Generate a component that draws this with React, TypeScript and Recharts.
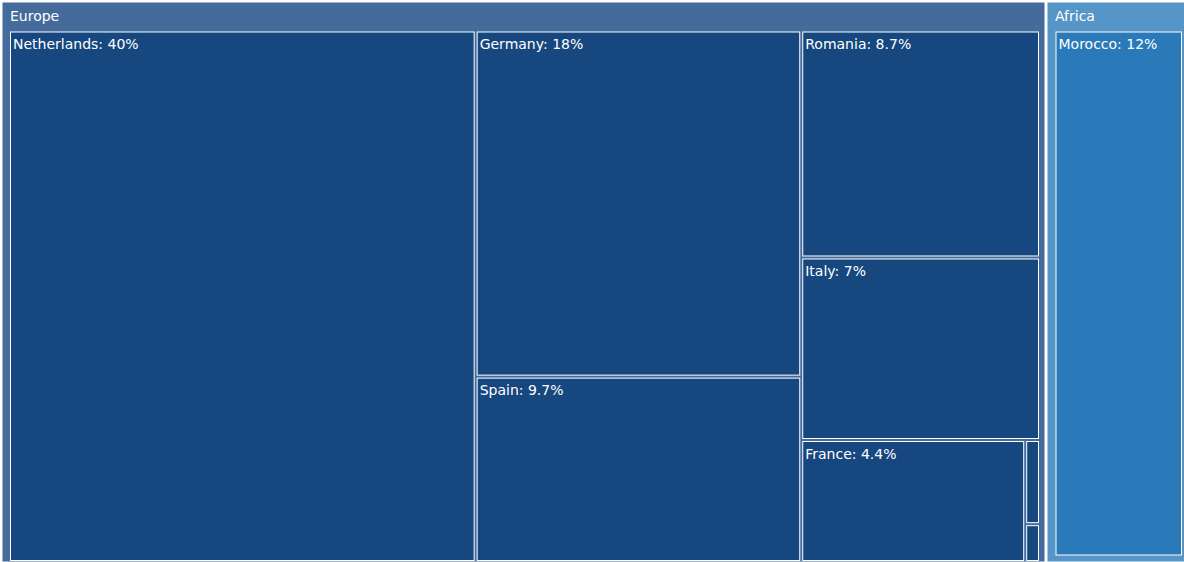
import React from 'react';
import { Treemap } from 'recharts';

// ---- data ----
const groupNames = ['Europe', 'Africa'];
const europeCountries = ['Netherlands', 'Germany', 'Spain', 'Romania', 'Italy', 'France', 'Belgium', 'Portugal'];
const europeShares = [39.9, 18.1, 9.7, 8.7, 7.0, 4.4, 0.2, 0.1];
const africaCountries = ['Morocco'];
const africaShares = [12];

// ---- styles ----
const GROUP_STYLE: Record<string, { header: string; fill: string; padL: number; padR: number; padT: number; padB: number }> = {
  Europe: { header: '#456b9c', fill: '#17477f', padL: 8, padR: 6, padT: 29.5, padB: 1 },
  Africa: { header: '#5595c7', fill: '#2a7ab9', padL: 8.5, padR: 5, padT: 29.5, padB: 6.5 },
};
const FONT = '"DejaVu Sans", Verdana, sans-serif';
const W = 1187;
const H = 562;

const total = [...europeShares, ...africaShares].reduce((a, b) => a + b, 0);
const pct = (v: number) => `${Number(((v / total) * 100).toPrecision(2))}%`;

const treeData = [
  {
    name: groupNames[0],
    children: europeCountries.map((c, i) => ({ name: c, value: europeShares[i], group: groupNames[0] })),
  },
  {
    name: groupNames[1],
    children: africaCountries.map((c, i) => ({ name: c, value: africaShares[i], group: groupNames[1] })),
  },
];

const parentRects: Record<string, { x: number; y: number; width: number; height: number }> = {};

function findParent(props: any) {
  const stack: any[] = props.root ? [props.root] : [];
  while (stack.length) {
    const n = stack.pop();
    if (n && n.depth === props.depth - 1 && n.name === props.group && n.x != null && n.width != null) {
      return { x: n.x, y: n.y, width: n.width, height: n.height };
    }
    if (n && n.children) stack.push(...n.children);
  }
  return parentRects[props.group];
}

const renderNode = (props: any) => {
  const { depth, x, y, width, height, name } = props;
  if (!depth || width == null) return <g />;
  if (depth === 1) {
    parentRects[name] = { x, y, width, height };
    const st = GROUP_STYLE[name];
    return (
      <g>
        <rect x={x + 1.5} y={y + 1.5} width={Math.max(0, width - 3)} height={Math.max(0, height - 3)} fill={st.header} />
        <text x={x + 9} y={y + 20} fill="#ffffff" fontSize={14} fontFamily={FONT}>
          {name}
        </text>
      </g>
    );
  }
  const st = GROUP_STYLE[props.group];
  const p = findParent(props);
  let nx = x, ny = y, nw = width, nh = height;
  if (p && p.width > 0 && p.height > 0) {
    const ix = p.x + st.padL;
    const iy = p.y + st.padT;
    const iw = p.width - st.padL - st.padR;
    const ih = p.height - st.padT - st.padB;
    nx = ix + ((x - p.x) / p.width) * iw;
    ny = iy + ((y - p.y) / p.height) * ih;
    nw = (width / p.width) * iw;
    nh = (height / p.height) * ih;
  }
  const label = `${name}: ${pct(props.value)}`;
  const fits = label.length * 14 * 0.6 < nw - 6 && nh > 22;
  return (
    <g>
      <rect
        x={nx + 1.5}
        y={ny + 1.5}
        width={Math.max(0, nw - 3)}
        height={Math.max(0, nh - 3)}
        fill={st.fill}
        stroke="#ffffff"
        strokeWidth={1}
      />
      {fits && (
        <text x={nx + 4} y={ny + 18.5} fill="#ffffff" fontSize={14} fontFamily={FONT}>
          {label}
        </text>
      )}
    </g>
  );
};

export default function App() {
  return (
    <div style={{ position: 'absolute', left: 1, top: 1, width: W, height: H, background: '#ffffff' }}>
      <Treemap
        width={W}
        height={H}
        data={treeData}
        dataKey="value"
        nameKey="name"
        aspectRatio={1}
        isAnimationActive={false}
        content={renderNode as any}
      />
    </div>
  );
}
